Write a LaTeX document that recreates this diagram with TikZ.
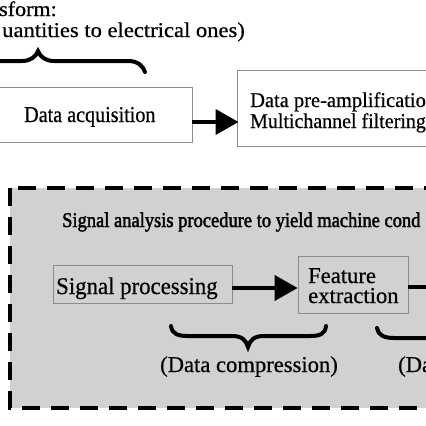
\documentclass[tikz,border=0pt]{standalone}
\usepackage{fontspec}
\usepackage{graphicx}
\setmainfont{Liberation Serif}[FakeBold=0.6]
\newfontfamily\boldish{Liberation Serif}[FakeBold=2]
\usetikzlibrary{arrows.meta}
\newcommand\tx[3]{\scalebox{#1}[1]{\fontsize{#2}{#2}\selectfont #3}}
\begin{document}
\begin{tikzpicture}[x=1pt,y=-1pt,
  box/.style={draw=black!45, line width=0.9pt, inner sep=0pt},
  txt/.style={anchor=base west, inner sep=0pt},
  arr/.style={line width=4pt, -{Triangle[length=23pt,width=25pt]}},
  brace/.style={line width=4pt, line cap=round}]
\useasboundingbox (0,0) rectangle (426,426);
\clip (0,0) rectangle (426,426);

% top text
\node[txt] (t1) at (-1,16) {\tx{1.05}{21}{sform:}};
\node[anchor=base east, inner sep=0pt] (t2) at (245,37) {\tx{1.075}{21}{uantities to electrical ones)}};
\draw[brace] (-5,61) -- (22,61) .. controls (30,61) and (36,57) .. (38,51)
  .. controls (40,57) and (46,61) .. (54,61) -- (128,61)
  .. controls (138,61) and (143,66) .. (145,72);

% top boxes
\node[box, minimum width=205pt, minimum height=55pt] (da) at (89.5,114.5) {};
\node[txt] (dat) at (24,122) {\tx{.89}{22.6}{Data acquisition}};
\node[box, minimum width=233pt, minimum height=76pt] (b2) at (353.5,108) {};
\node[txt] (b2a) at (250,107) {\tx{.975}{21}{Data pre-amplificatio}};
\node[txt] (b2b) at (250,128) {\tx{.95}{21}{Multichannel filtering}};
\coordinate (y1) at (0,122);
\draw[arr, shorten >=-2pt] (da.east |- y1) -- (b2.west |- y1);

% dashed area
\path[fill=black!18] (10,188) rectangle (470,408);
\draw[line width=4.5pt, dash pattern=on 18pt off 11pt] (10,188) rectangle (470,408);
\node[txt] (title) at (62,227) {\boldish\tx{.88}{21}{Signal analysis procedure to yield machine cond}};

\node[box, minimum width=179pt, minimum height=38pt] (sp) at (142.5,284) {};
\node[txt] (spt) at (56,294) {\tx{.95}{24}{Signal processing}};
\node[box, minimum width=110pt, minimum height=57pt] (fe) at (353,284.5) {};
\node[anchor=north west, inner sep=0pt, align=left, font=\fontsize{22.6}{20}\selectfont] (fet) at (308,268) {Feature\\extraction};
\coordinate (y2) at (0,288);
\draw[arr] (sp.east |- y2) -- (fe.west |- y2);
\coordinate (r2) at (440,287);
\draw[line width=4pt] (fe.east |- r2) -- (r2);

% lower braces
\draw[brace] (171,326) .. controls (172,334) and (178,336) .. (188,336) -- (232,336)
  .. controls (242,336) and (246,340) .. (248,347)
  .. controls (250,340) and (254,336) .. (264,336) -- (310,336)
  .. controls (320,336) and (325,334) .. (326,326);
\draw[brace] (377,328) .. controls (378,335) and (384,338) .. (394,338) -- (440,338);
\node[txt] (dc) at (160,372) {\tx{1}{22.6}{(Data compression)}};
\node[txt] (da2) at (398,372) {\tx{1}{22.6}{(Da}};
\end{tikzpicture}
\end{document}
